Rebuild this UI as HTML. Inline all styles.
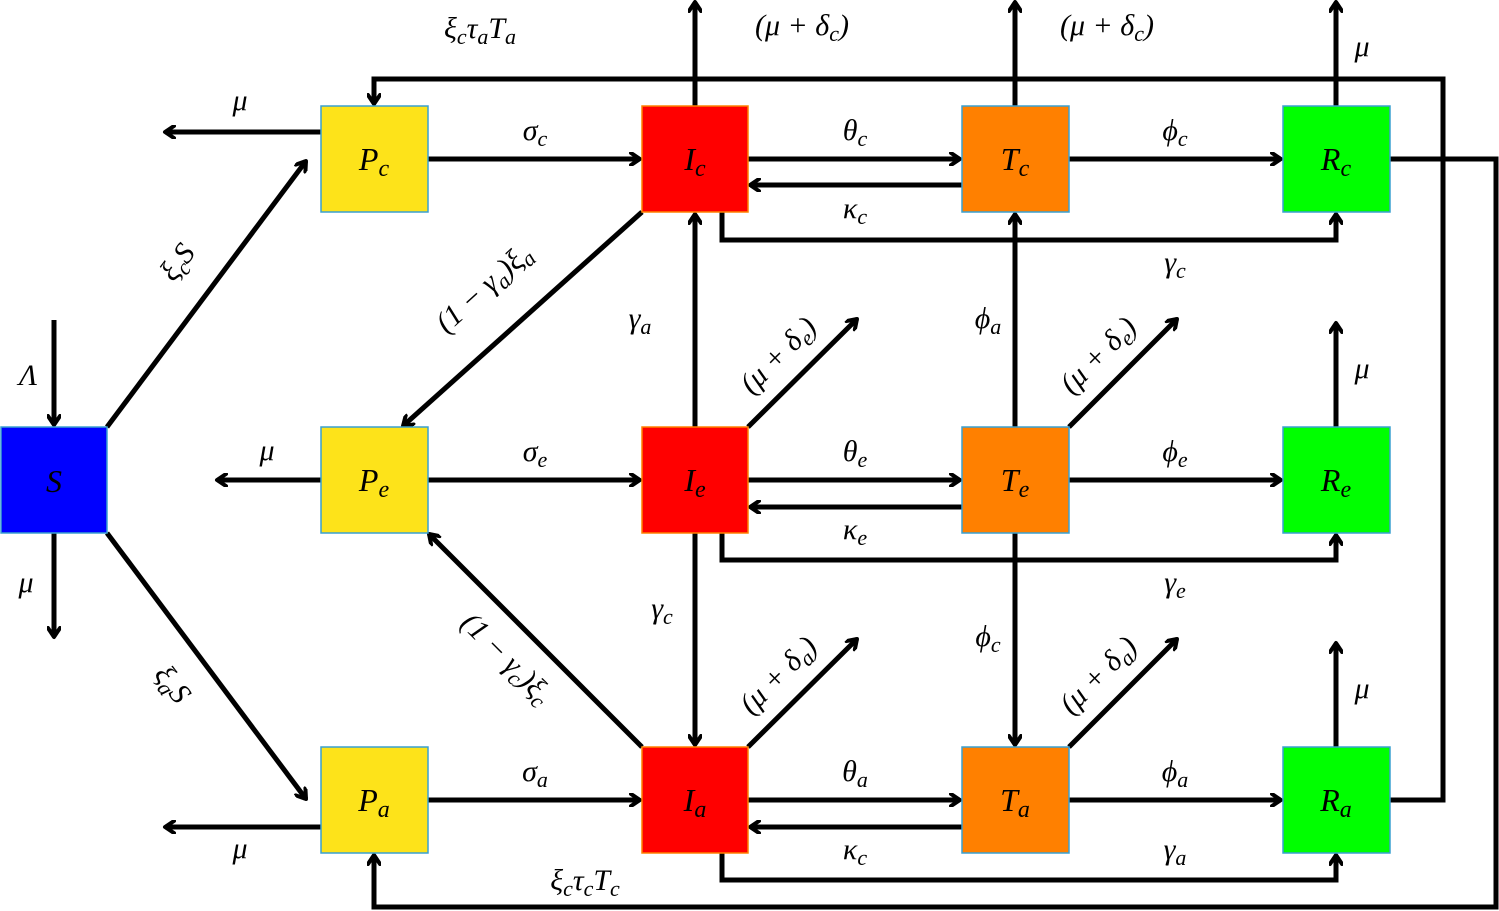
<!DOCTYPE html>
<html><head><meta charset="utf-8"><style>
html,body{margin:0;padding:0;background:#fff;}
svg{display:block;}
text{font-family:"Liberation Serif",serif;font-style:italic;fill:#000;}
.l{font-size:30px;}
.b{font-size:32px;}
</style></head><body>
<svg width="1499" height="911" viewBox="0 0 1499 911" xmlns="http://www.w3.org/2000/svg">
<defs>
<marker id="a" markerWidth="14" markerHeight="14" refX="11" refY="7" orient="auto" markerUnits="userSpaceOnUse">
<path d="M2,1 L11,7 L2,13" fill="none" stroke="#000" stroke-width="4" stroke-linecap="round" stroke-linejoin="round"/>
</marker>
</defs>
<g stroke="#000" stroke-width="5" fill="none" stroke-linejoin="miter">
<!-- loops -->
<polyline points="1390,800 1443,800 1443,79 374,79 374,104" marker-end="url(#a)"/>
<polyline points="1390,159 1496,159 1496,907 374,907 374,855" marker-end="url(#a)"/>
<!-- top up arrows -->
<line x1="695" y1="106" x2="695" y2="2" marker-end="url(#a)"/>
<line x1="1015" y1="106" x2="1015" y2="2" marker-end="url(#a)"/>
<line x1="1336" y1="106" x2="1336" y2="2" marker-end="url(#a)"/>
<!-- mu left -->
<line x1="321" y1="132" x2="165" y2="132" marker-end="url(#a)"/>
<line x1="321" y1="480" x2="217" y2="480" marker-end="url(#a)"/>
<line x1="321" y1="827" x2="165" y2="827" marker-end="url(#a)"/>
<!-- S -->
<line x1="54" y1="320" x2="54" y2="425" marker-end="url(#a)"/>
<line x1="54" y1="533" x2="54" y2="637" marker-end="url(#a)"/>
<line x1="107" y1="427" x2="306" y2="161" marker-end="url(#a)"/>
<line x1="107" y1="533" x2="306" y2="799" marker-end="url(#a)"/>
<!-- diagonals to Pe -->
<line x1="642" y1="212" x2="403" y2="426" marker-end="url(#a)"/>
<line x1="642" y1="747" x2="429" y2="534" marker-end="url(#a)"/>
<!-- sigma -->
<line x1="428" y1="159" x2="640" y2="159" marker-end="url(#a)"/>
<line x1="428" y1="480" x2="640" y2="480" marker-end="url(#a)"/>
<line x1="428" y1="800" x2="640" y2="800" marker-end="url(#a)"/>
<!-- theta -->
<line x1="748" y1="159" x2="960" y2="159" marker-end="url(#a)"/>
<line x1="748" y1="480" x2="960" y2="480" marker-end="url(#a)"/>
<line x1="748" y1="800" x2="960" y2="800" marker-end="url(#a)"/>
<!-- kappa -->
<line x1="962" y1="185" x2="750" y2="185" marker-end="url(#a)"/>
<line x1="962" y1="507" x2="750" y2="507" marker-end="url(#a)"/>
<line x1="962" y1="827" x2="750" y2="827" marker-end="url(#a)"/>
<!-- phi -->
<line x1="1069" y1="159" x2="1281" y2="159" marker-end="url(#a)"/>
<line x1="1069" y1="480" x2="1281" y2="480" marker-end="url(#a)"/>
<line x1="1069" y1="800" x2="1281" y2="800" marker-end="url(#a)"/>
<!-- gamma bypass -->
<polyline points="722,212 722,240 1336,240 1336,214" marker-end="url(#a)"/>
<polyline points="722,533 722,560 1336,560 1336,535" marker-end="url(#a)"/>
<polyline points="722,853 722,880 1336,880 1336,855" marker-end="url(#a)"/>
<!-- verticals -->
<line x1="695" y1="427" x2="695" y2="214" marker-end="url(#a)"/>
<line x1="695" y1="533" x2="695" y2="745" marker-end="url(#a)"/>
<line x1="1015" y1="427" x2="1015" y2="214" marker-end="url(#a)"/>
<line x1="1015" y1="533" x2="1015" y2="745" marker-end="url(#a)"/>
<!-- death diagonals -->
<line x1="748" y1="427" x2="857" y2="319" marker-end="url(#a)"/>
<line x1="1069" y1="427" x2="1177" y2="319" marker-end="url(#a)"/>
<line x1="748" y1="747" x2="857" y2="639" marker-end="url(#a)"/>
<line x1="1069" y1="747" x2="1177" y2="639" marker-end="url(#a)"/>
<!-- R mu -->
<line x1="1336" y1="427" x2="1336" y2="323" marker-end="url(#a)"/>
<line x1="1336" y1="747" x2="1336" y2="643" marker-end="url(#a)"/>
</g>
<!-- boxes -->
<g stroke="#3aa0d0" stroke-width="1.5">
<rect x="1" y="427" width="106" height="106" fill="#0000ff"/>
<rect x="321" y="106" width="107" height="106" fill="#fde31a"/>
<rect x="321" y="427" width="107" height="106" fill="#fde31a"/>
<rect x="321" y="747" width="107" height="106" fill="#fde31a"/>
<rect x="642" y="106" width="106" height="106" fill="#ff0000" stroke="#ff8000"/>
<rect x="642" y="427" width="106" height="106" fill="#ff0000" stroke="#ff8000"/>
<rect x="642" y="747" width="106" height="106" fill="#ff0000" stroke="#ff8000"/>
<rect x="962" y="106" width="107" height="106" fill="#ff8000"/>
<rect x="962" y="427" width="107" height="106" fill="#ff8000"/>
<rect x="962" y="747" width="107" height="106" fill="#ff8000"/>
<rect x="1283" y="106" width="107" height="106" fill="#00ff00"/>
<rect x="1283" y="427" width="107" height="106" fill="#00ff00"/>
<rect x="1283" y="747" width="107" height="106" fill="#00ff00"/>
</g>
<g class="b" text-anchor="middle">
<text x="54" y="492">S</text>
<text x="374" y="170">P<tspan font-size="24" dy="6">c</tspan></text>
<text x="374" y="491">P<tspan font-size="24" dy="6">e</tspan></text>
<text x="374" y="811">P<tspan font-size="24" dy="6">a</tspan></text>
<text x="695" y="170">I<tspan font-size="24" dy="6">c</tspan></text>
<text x="695" y="491">I<tspan font-size="24" dy="6">e</tspan></text>
<text x="695" y="811">I<tspan font-size="24" dy="6">a</tspan></text>
<text x="1015" y="170">T<tspan font-size="24" dy="6">c</tspan></text>
<text x="1015" y="491">T<tspan font-size="24" dy="6">e</tspan></text>
<text x="1015" y="811">T<tspan font-size="24" dy="6">a</tspan></text>
<text x="1336" y="170">R<tspan font-size="24" dy="6">c</tspan></text>
<text x="1336" y="491">R<tspan font-size="24" dy="6">e</tspan></text>
<text x="1336" y="811">R<tspan font-size="24" dy="6">a</tspan></text>
</g>
<g class="l" text-anchor="middle">
<text x="480" y="38">ξ<tspan font-size="22" dy="6">c</tspan><tspan dy="-6">τ</tspan><tspan font-size="22" dy="6">a</tspan><tspan dy="-6">T</tspan><tspan font-size="22" dy="6">a</tspan></text>
<text x="585" y="890">ξ<tspan font-size="22" dy="6">c</tspan><tspan dy="-6">τ</tspan><tspan font-size="22" dy="6">c</tspan><tspan dy="-6">T</tspan><tspan font-size="22" dy="6">c</tspan></text>
<text x="802" y="35" font-style="normal">(<tspan font-style="italic">μ</tspan> + <tspan font-style="italic">δ</tspan><tspan font-size="22" dy="6" font-style="italic">c</tspan><tspan dy="-6">)</tspan></text>
<text x="1107" y="35" font-style="normal">(<tspan font-style="italic">μ</tspan> + <tspan font-style="italic">δ</tspan><tspan font-size="22" dy="6" font-style="italic">c</tspan><tspan dy="-6">)</tspan></text>
<text x="1362" y="56">μ</text>
<text x="240" y="110">μ</text>
<text x="267" y="460">μ</text>
<text x="240" y="858">μ</text>
<text x="28" y="385" font-style="normal">Λ</text>
<text x="26" y="592">μ</text>
<text x="1362" y="378">μ</text>
<text x="1362" y="698">μ</text>
<text x="535" y="140">σ<tspan font-size="22" dy="6">c</tspan></text>
<text x="535" y="461">σ<tspan font-size="22" dy="6">e</tspan></text>
<text x="535" y="781">σ<tspan font-size="22" dy="6">a</tspan></text>
<text x="855" y="140">θ<tspan font-size="22" dy="6">c</tspan></text>
<text x="855" y="461">θ<tspan font-size="22" dy="6">e</tspan></text>
<text x="855" y="781">θ<tspan font-size="22" dy="6">a</tspan></text>
<text x="855" y="218">κ<tspan font-size="22" dy="6">c</tspan></text>
<text x="855" y="539">κ<tspan font-size="22" dy="6">e</tspan></text>
<text x="855" y="859">κ<tspan font-size="22" dy="6">c</tspan></text>
<text x="1175" y="140">ϕ<tspan font-size="22" dy="6">c</tspan></text>
<text x="1175" y="461">ϕ<tspan font-size="22" dy="6">e</tspan></text>
<text x="1175" y="781">ϕ<tspan font-size="22" dy="6">a</tspan></text>
<text x="1175" y="272">γ<tspan font-size="22" dy="6">c</tspan></text>
<text x="1175" y="592">γ<tspan font-size="22" dy="6">e</tspan></text>
<text x="1175" y="859">γ<tspan font-size="22" dy="6">a</tspan></text>
<text x="640" y="328">γ<tspan font-size="22" dy="6">a</tspan></text>
<text x="662" y="618">γ<tspan font-size="22" dy="6">c</tspan></text>
<text x="988" y="328">ϕ<tspan font-size="22" dy="6">a</tspan></text>
<text x="988" y="646">ϕ<tspan font-size="22" dy="6">c</tspan></text>
<text transform="translate(185,268) rotate(-53)">ξ<tspan font-size="22" dy="6">c</tspan><tspan dy="-6">S</tspan></text>
<text transform="translate(165,690) rotate(53)">ξ<tspan font-size="22" dy="6">a</tspan><tspan dy="-6">S</tspan></text>
<text transform="translate(490,295) rotate(-42)" font-style="normal">(1 − <tspan font-style="italic">γ</tspan><tspan font-size="22" dy="6" font-style="italic">a</tspan><tspan dy="-6">)</tspan><tspan font-style="italic">ξ</tspan><tspan font-size="22" dy="6" font-style="italic">a</tspan></text>
<text transform="translate(500,665) rotate(45)" font-style="normal">(1 − <tspan font-style="italic">γ</tspan><tspan font-size="22" dy="6" font-style="italic">c</tspan><tspan dy="-6">)</tspan><tspan font-style="italic">ξ</tspan><tspan font-size="22" dy="6" font-style="italic">c</tspan></text>
<text transform="translate(785,362) rotate(-45)" font-style="normal">(<tspan font-style="italic">μ</tspan> + <tspan font-style="italic">δ</tspan><tspan font-size="22" dy="6" font-style="italic">e</tspan><tspan dy="-6">)</tspan></text>
<text transform="translate(1105,362) rotate(-45)" font-style="normal">(<tspan font-style="italic">μ</tspan> + <tspan font-style="italic">δ</tspan><tspan font-size="22" dy="6" font-style="italic">e</tspan><tspan dy="-6">)</tspan></text>
<text transform="translate(785,682) rotate(-45)" font-style="normal">(<tspan font-style="italic">μ</tspan> + <tspan font-style="italic">δ</tspan><tspan font-size="22" dy="6" font-style="italic">a</tspan><tspan dy="-6">)</tspan></text>
<text transform="translate(1105,682) rotate(-45)" font-style="normal">(<tspan font-style="italic">μ</tspan> + <tspan font-style="italic">δ</tspan><tspan font-size="22" dy="6" font-style="italic">a</tspan><tspan dy="-6">)</tspan></text>
</g>
</svg>
</body></html>
